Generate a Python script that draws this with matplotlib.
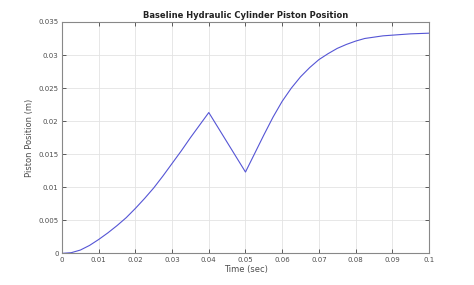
import numpy as np
import matplotlib
matplotlib.use("Agg")
import matplotlib.pyplot as plt

# piston position (time in s, position in m)
time_s = [0, 0.0025, 0.005, 0.0075, 0.01, 0.0125, 0.015, 0.0175, 0.02,
          0.0225, 0.025, 0.0275, 0.03, 0.0325, 0.035, 0.0375, 0.04,
          0.045, 0.05, 0.0525, 0.055, 0.0575, 0.06, 0.0625, 0.065,
          0.0675, 0.07, 0.0725, 0.075, 0.0775, 0.08, 0.0825, 0.085,
          0.0875, 0.09, 0.095, 0.1]
position_m = [0, 0.0001, 0.0005, 0.0012, 0.0021, 0.0031, 0.0042, 0.0054,
              0.0068, 0.0083, 0.0099, 0.0117, 0.0136, 0.0155, 0.0175,
              0.0194, 0.0213, 0.0168, 0.0123, 0.0151, 0.0179, 0.0206,
              0.0230, 0.0250, 0.0267, 0.0281, 0.0293, 0.0302, 0.0310,
              0.0316, 0.0321, 0.0325, 0.0327, 0.0329, 0.0330, 0.0332,
              0.0333]

x_ticks = [0, 0.01, 0.02, 0.03, 0.04, 0.05, 0.06, 0.07, 0.08, 0.09, 0.1]
x_labels = ["0", "0.01", "0.02", "0.03", "0.04", "0.05", "0.06", "0.07",
            "0.08", "0.09", "0.1"]
y_ticks = [0, 0.005, 0.01, 0.015, 0.02, 0.025, 0.03, 0.035]
y_labels = ["0", "0.005", "0.01", "0.015", "0.02", "0.025", "0.03", "0.035"]

fig = plt.figure(figsize=(4.74, 2.85), dpi=100)
ax = fig.add_axes([0.1308, 0.111, 0.7742, 0.812])

ax.plot(time_s, position_m, color="#5555d5", linewidth=0.8)

ax.set_xlim(0, 0.1)
ax.set_ylim(0, 0.035)
ax.set_xticks(x_ticks, x_labels)
ax.set_yticks(y_ticks, y_labels)
ax.grid(True, color="#e3e3e3", linewidth=0.6)
ax.set_axisbelow(True)

gray = "#4d4d4d"
ax.tick_params(direction="in", length=3, width=0.6, colors="#444444",
               labelsize=5, top=True, right=True, pad=2.5,
               labelcolor=gray)
for s in ax.spines.values():
    s.set_color("#888888")
    s.set_linewidth(0.8)

ax.set_xlabel("Time (sec)", fontsize=6, color=gray, labelpad=1.5)
ax.set_ylabel("Piston Position (m)", fontsize=6, color=gray, labelpad=3)
ax.set_title("Baseline Hydraulic Cylinder Piston Position", fontsize=6,
             fontweight="bold", color="#222222", pad=3)

fig.savefig("out.png", dpi=100)
